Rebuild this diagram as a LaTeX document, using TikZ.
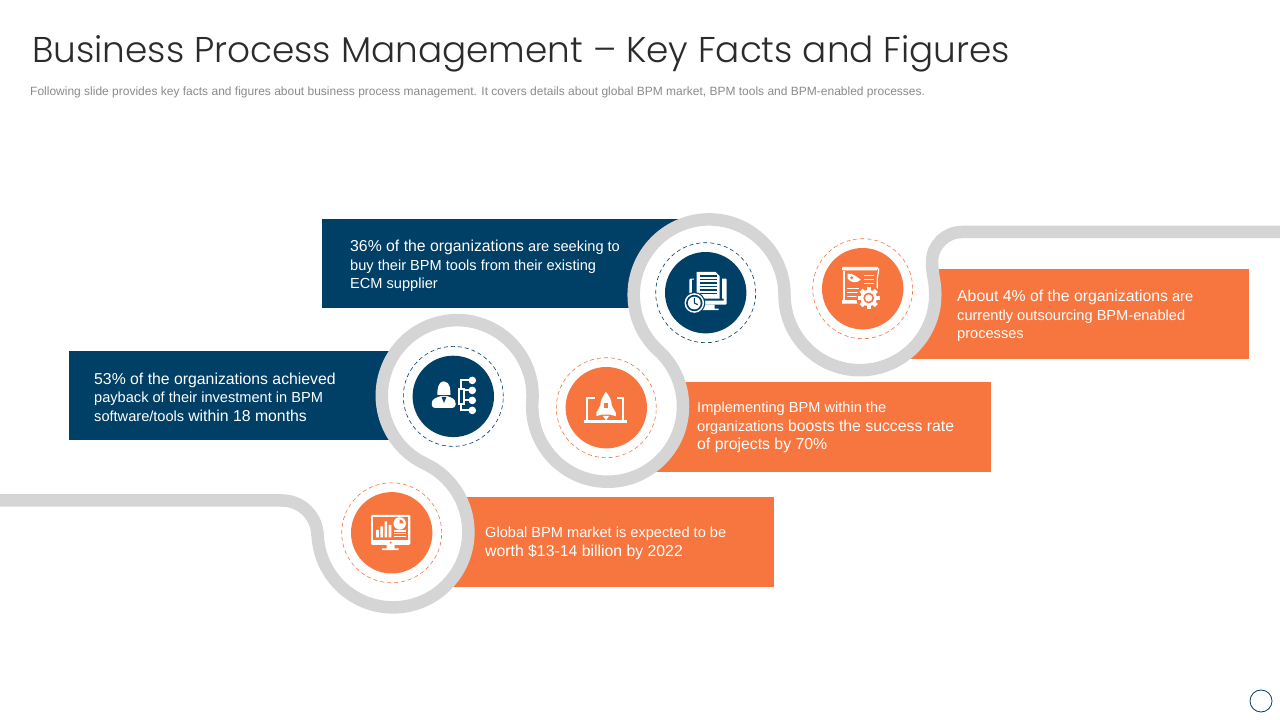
\documentclass[tikz,border=0pt]{standalone}
\usepackage{fontspec}
\setmainfont{Liberation Sans}
\newfontfamily\titlefont{Poppins Light}
\definecolor{navyblue}{HTML}{003F66}
\definecolor{factorange}{HTML}{F7763F}
\definecolor{ribbongray}{HTML}{D5D5D5}
\definecolor{titlegray}{HTML}{2B2B2B}
\definecolor{notegray}{HTML}{8A8A8A}
\tikzset{
  bandbox/.style={rectangle,draw=none,inner sep=0pt,anchor=south west,minimum height=89.5pt},
  fact/.style={anchor=west,align=left,inner sep=0pt,text=white,font=\fontsize{14.6}{18.5}\selectfont},
  disk/.style={circle,inner sep=0pt,minimum size=81.4pt},
  ring/.style={circle,inner sep=0pt,minimum size=100pt,dashed,dash pattern=on 4pt off 3pt,line width=0.6pt},
  ribbon/.style={draw=ribbongray,line width=12.5pt},
}
\newcommand{\bigpart}[1]{{\fontsize{15.8}{18.5}\selectfont #1}}
\begin{document}
\begin{tikzpicture}[x=1pt,y=1pt]
  \useasboundingbox (0,0) rectangle (1280,720);
  % heading
  \node[anchor=base west,inner sep=0pt,text=titlegray,font=\titlefont\fontsize{35.85}{40}\selectfont] (title) at (32,657) {Business Process Management – Key Facts and Figures};
  \node[anchor=base west,inner sep=0pt,text=notegray,font=\fontsize{12}{14}\selectfont] (subtitle) at (30,624.5) {Following slide provides key facts and figures about business process management. It covers details about global BPM market, BPM tools and BPM-enabled processes.};
  % bands
  \node[bandbox,fill=navyblue,minimum width=368pt] (bandtools) at (322,411.5) {};
  \node[bandbox,fill=navyblue,minimum width=331pt] (bandpayback) at (69,279.5) {};
  \node[bandbox,fill=factorange,minimum width=369pt] (bandoutsource) at (880,361) {};
  \node[bandbox,fill=factorange,minimum width=351pt] (bandsuccess) at (640,248) {};
  \node[bandbox,fill=factorange,minimum width=334pt] (bandmarket) at (440,133) {};
  % ribbon
  \fill[white] (393,188) circle (75) (457.2,324.4) circle (75) (607.6,313.6) circle (75)
    (709,425.2) circle (75) (859.8,425.2) circle (75);
  \draw[ribbon] (0,219.5) -- (282,219.5) arc[start angle=90,end angle=0,radius=35.5]
    -- (317.6,188)
    arc[start angle=180,end angle=424.8,radius=75.4]
    arc[start angle=244.8,end angle=-4.1,radius=75.4]
    arc[start angle=175.9,end angle=407.7,radius=75.4]
    arc[start angle=227.7,end angle=0,radius=75.4]
    arc[start angle=180,end angle=365,radius=75.4]
    .. controls (934.5,440) and (932,448) .. (932,458)
    arc[start angle=180,end angle=90,radius=30] -- (1280,488);
  % circles
  \node[disk,fill=navyblue] (diskclock) at (705.7,427.3) {};
  \node[ring,draw=navyblue] (ringclock) at (diskclock) {};
  \node[disk,fill=factorange] (diskgear) at (862.7,431.3) {};
  \node[ring,draw=factorange] (ringgear) at (diskgear) {};
  \node[disk,fill=factorange] (diskrocket) at (606.3,312.3) {};
  \node[ring,draw=factorange] (ringrocket) at (diskrocket) {};
  \node[disk,fill=navyblue] (diskperson) at (453.3,323.6) {};
  \node[ring,draw=navyblue] (ringperson) at (diskperson) {};
  \node[disk,fill=factorange] (diskchart) at (391.7,187.2) {};
  \node[ring,draw=factorange] (ringchart) at (diskchart) {};
  % clock icon
  \begin{scope}[shift={(diskclock.center)}]
    \fill[white,rounded corners=1pt] (-16.4,14) rectangle (21,-12);
    \fill[navyblue] (-13.5,13) rectangle (-11,-8) (-10,-6) rectangle (18,-8);
    \fill[white] (-3,-12) rectangle (9,-16) (-6,-16) rectangle (13,-17.5);
    \fill[navyblue] (-11.5,22) rectangle (16,-6);
    \fill[white] (-9,20.7) -- (10,20.7) -- (14,16.5) -- (14,-6) -- (-9,-6) -- cycle;
    \foreach \rowy in {16,12.5,9,5.5,2,-1.5}
      \fill[navyblue] (-6,\rowy) rectangle (11,\rowy+1.2);
    \fill[navyblue] (-11.4,-10.3) circle (11);
    \fill[white] (-11.4,-10.3) circle (9.8);
    \fill[navyblue] (-11.4,-10.3) circle (8.2);
    \fill[white] (-11.4,-10.3) circle (6.4);
    \draw[navyblue,line width=1.1pt] (-11.4,-5.5) -- (-11.4,-10.3) -- (-8,-12);
  \end{scope}
  % gear icon
  \begin{scope}[shift={(diskgear.center)}]
    \fill[white,rounded corners=0.8pt] (-20.7,21.7) rectangle (14.5,18.2);
    \draw[white,line width=1.2pt] (14,21.5) -- (16,19) -- (14.5,10) -- (14.5,0);
    \draw[white,line width=2pt] (-18.5,18) -- (-18.5,-12);
    \fill[white] (-15,15) .. controls (-10,16) and (-5,11) .. (-2,9) .. controls (-6,5) and (-12,6) .. (-15,10) -- cycle;
    \fill[factorange] (-11,11) circle (1.6);
    \foreach \rowy in {14,10,6}
      \fill[white] (1,\rowy) rectangle (11,\rowy-1.7);
    \foreach \rowy in {1,-3,-7}
      \fill[white] (-16,\rowy) rectangle (-4,\rowy-1.7);
    \fill[white] (-20.7,-11.5) -- (-6,-11.5) -- (-2,-13.3) -- (-6,-15) -- (-20.7,-15) -- cycle;
    \fill[factorange] (6,-9.3) circle (12.5);
    \foreach \toothangle in {0,45,...,315}
      \fill[white,shift={(6,-9.3)},rotate=\toothangle] (-2.2,6) rectangle (2.2,10.8);
    \fill[white] (6,-9.3) circle (8.2);
    \fill[factorange] (6,-9.3) circle (5.4);
    \fill[white] (6,-9.3) circle (3.6);
  \end{scope}
  % rocket icon
  \begin{scope}[shift={(diskrocket.center)}]
    \draw[white,line width=2pt] (-19.3,-12) -- (-19.3,10) -- (17,10) -- (17,-12);
    \fill[white] (-22,-12.6) rectangle (20.7,-15.5);
    \fill[factorange] (-11,17) rectangle (10.4,-12);
    \fill[white] (-0.5,16) .. controls (3.5,11) and (5.5,7) .. (5.5,2) -- (9.5,-5) -- (9.5,-8.5) -- (4,-7) -- (-5,-7)
      -- (-10,-8.5) -- (-10,-5) -- (-6,2) .. controls (-6,7) and (-3.5,11) .. (-0.5,16) -- cycle;
    \fill[factorange] (-2.2,0) rectangle (1.5,4.5);
    \fill[white] (-3.5,-8.3) -- (2.8,-8.3) -- (-0.3,-12.5) -- cycle;
  \end{scope}
  % person icon
  \begin{scope}[shift={(diskperson.center)}]
    \fill[white] (-9.3,15) .. controls (-16,15) and (-16,5) .. (-16,1.5) -- (-2.8,1.5) .. controls (-2.8,5) and (-2.8,15) .. (-9.3,15) -- cycle;
    \fill[white,rounded corners=3pt] (-21.5,-11.5) -- (-21.5,-3.5) -- (-13,0.5) -- (-5.5,0.5) -- (2.2,-3.5) -- (2.2,-11.5) -- cycle;
    \fill[navyblue] (-11.8,-0.5) -- (-6.8,-0.5) -- (-9.3,-6.5) -- cycle;
    \draw[white,line width=1.8pt] (5.5,7) rectangle (10.7,-8);
    \draw[white,line width=1.8pt] (8,7) -- (8,16) -- (19,16) (10.7,6) -- (19,6) (10.7,-4) -- (19,-4) (8,-8) -- (8,-14) -- (19,-14);
    \foreach \nodey in {16,6,-4,-14}
      \fill[white] (19,\nodey) circle (3.8);
  \end{scope}
  % chart icon
  \begin{scope}[shift={(diskchart.center)}]
    \fill[white,rounded corners=1.2pt] (-20.7,18) rectangle (18.6,-12);
    \fill[factorange] (-18.7,16) rectangle (16.6,-7.5);
    \fill[factorange] (-1,-9.8) circle (1.1);
    \fill[white] (-5,-12) rectangle (3,-15.5) (-9.5,-15.5) rectangle (7,-17.4);
    \fill[white] (-15.5,-4.5) rectangle (-12.8,3) (-11.4,-4.5) rectangle (-8.7,6.5) (-7.2,-4.5) rectangle (-4.5,11.5) (-3,-4.5) rectangle (-0.3,8);
    \fill[white] (8,9.4) circle (6.2);
    \fill[factorange] (8,9.4) -- (8,13.4) arc[start angle=90,end angle=0,radius=4] -- cycle;
    \foreach \rowy in {1.2,-1.6,-4.4}
      \fill[white] (2.6,\rowy) rectangle (13.8,\rowy+1.3);
  \end{scope}
  % texts
  \node[fact] (facttools) at (350,454) {\bigpart{36\% of the organizations} are seeking to\\buy their BPM tools from their existing\\ECM supplier};
  \node[fact] (factpayback) at (94,323) {\bigpart{53\% of the organizations achieved}\\payback of their investment in BPM\\software/tools \bigpart{within 18 months}};
  \node[fact] (factoutsource) at (957,404) {\bigpart{About 4\% of the organizations} are\\currently outsourcing BPM-enabled\\processes};
  \node[fact] (factsuccess) at (697,292.5) {Implementing BPM within the\\organizations \bigpart{boosts the success rate}\\\bigpart{of projects by 70\%}};
  \node[fact] (factmarket) at (485,176.5) {Global BPM market is expected to be\\\bigpart{worth \$13-14 billion by 2022}};
  % corner mark
  \node[circle,draw=navyblue,line width=0.8pt,inner sep=0pt,minimum size=22pt] (cornermark) at (1261,19) {};
\end{tikzpicture}
\end{document}
